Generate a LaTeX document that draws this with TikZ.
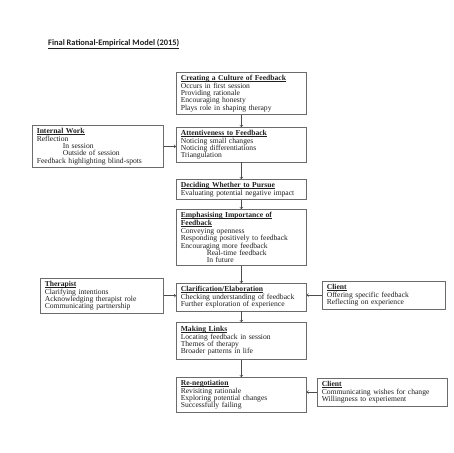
\documentclass[tikz,border=0pt]{standalone}
\usepackage{fontspec}
\setmainfont{Liberation Serif}
\newfontfamily\titlefont{Carlito}
\usetikzlibrary{arrows.meta}
\definecolor{boxgray}{gray}{0.42}
\definecolor{textgray}{gray}{0.12}
\definecolor{arrgray}{gray}{0.3}
\newcommand\boxhead[1]{\sbox0{\textbf{#1}}\leavevmode\rlap{\rule[-0.9pt]{\wd0}{0.45pt}}\usebox0}
\newcommand\ind{\hspace*{26pt}}
\newcommand\boxfont{\fontsize{7.6}{7.3}\selectfont\lineskiplimit=-20pt\relax}
\begin{document}
\begin{tikzpicture}[x=1pt,y=-1pt,
  box/.style={draw=boxgray, line width=0.6pt, fill=white, anchor=north west, align=left,
    inner xsep=4.5pt, inner ysep=2.6pt, font=\boxfont, text=textgray},
  conn/.style={draw=arrgray, line width=0.5pt, -{To[length=2.2pt,width=3.6pt]}}]
\useasboundingbox[fill=white] (0,0) rectangle (453,453);

\node[anchor=base west, inner sep=0pt, font=\titlefont\bfseries\fontsize{8.4}{9}\selectfont, text=textgray]
  (title) at (48,45) {\underline{Final Rational-Empirical Model (2015)}};

\node[box, text width=121pt] (b1) at (176,72) {\boxhead{Creating a Culture of Feedback}\\[0.8pt]
  Occurs in first session\\ Providing rationale\\ Encouraging honesty\\ Plays role in shaping therapy};
\node[box, text width=121pt] (b2) at (176,127) {\boxhead{Attentiveness to Feedback}\\[0.8pt]
  Noticing small changes\\ Noticing differentiations\\ Triangulation};
\node[box, text width=121pt] (b3) at (176,179) {\boxhead{Deciding Whether to Pursue}\\[0.8pt]
  Evaluating potential negative impact};
\node[box, text width=121pt] (b4) at (176,209) {\boxhead{Emphasising Importance of}\\[0.8pt] \boxhead{Feedback}\\[0.8pt]
  Conveying openness\\ Responding positively to feedback\\ Encouraging more feedback\\
  \ind Real-time feedback\\ \ind In future};
\node[box, text width=121pt] (b5) at (176,283) {\boxhead{Clarification/Elaboration}\\[0.8pt]
  Checking understanding of feedback\\ Further exploration of experience};
\node[box, text width=121pt, minimum height=37pt] (b6) at (176,322) {\boxhead{Making Links}\\[0.8pt]
  Locating feedback in session\\ Themes of therapy\\ Broader patterns in life};
\node[box, text width=121pt] (b7) at (176,377) {\boxhead{Re-negotiation}\\[0.8pt]
  Revisiting rationale\\ Exploring potential changes\\ Successfully failing};

\node[box, text width=122pt] (iw) at (32,125) {\boxhead{Internal Work}\\[0.8pt] Reflection\\
  \ind In session\\ \ind Outside of session\\ Feedback highlighting blind-spots};
\node[box, text width=114pt] (th) at (40,278) {\boxhead{Therapist}\\[0.8pt] Clarifying intentions\\
  Acknowledging therapist role\\ Communicating partnership};
\node[box, text width=114pt] (c1) at (322,281) {\boxhead{Client}\\[0.8pt] Offering specific feedback\\
  Reflecting on experience};
\node[box, text width=121pt] (c2) at (317,378) {\boxhead{Client}\\[0.8pt] Communicating wishes for change\\
  Willingness to experiement};

\draw[conn] (b1.south) -- (b2.north);
\draw[conn] (b2.south) -- (b3.north);
\draw[conn] (b3.south) -- (b4.north);
\draw[conn] (b4.south) -- (b5.north);
\draw[conn] (b5.south) -- (b6.north);
\draw[conn] (b6.south) -- (b7.north);
\draw[conn] (iw.east) -- (iw.east -| b2.west);
\draw[conn] (th.east) -- (th.east -| b5.west);
\draw[conn] (c1.west) -- (c1.west -| b5.east);
\draw[conn] (c2.west) -- (c2.west -| b7.east);
\end{tikzpicture}
\end{document}
